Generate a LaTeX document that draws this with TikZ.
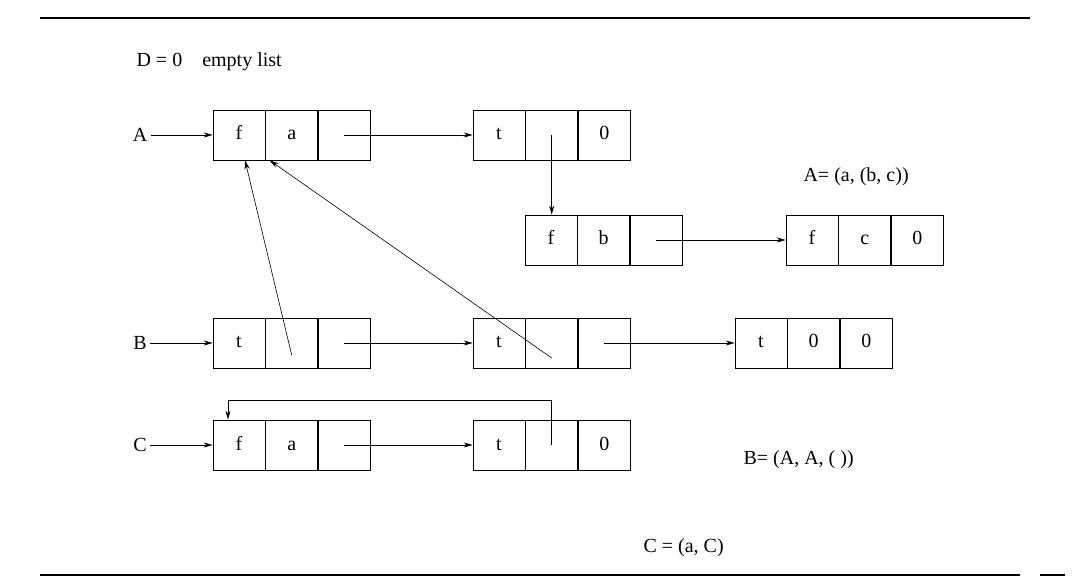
\documentclass[tikz,border=0pt]{standalone}
\usepackage{fontspec}
\setmainfont{Liberation Serif}
\usetikzlibrary{arrows.meta}
\begin{document}
\begin{tikzpicture}[x=1pt,y=-1pt,font=\fontsize{20}{23}\selectfont,
  cell/.style={draw,minimum width=52pt,minimum height=50pt,inner sep=0pt,line width=0.7pt,text height=10pt,text depth=0pt},
  arr/.style={-{Stealth[length=9pt,width=5pt]},line width=0.6pt}]
\useasboundingbox (0,0) rectangle (1085,588);
\draw[line width=1.2pt] (40,18) -- (1030,18);
\draw[line width=1.2pt] (40,575) -- (1020,575);
\draw[line width=1.2pt] (1040,575) -- (1065,575);
\newcommand\tri[5]{%
  \node[cell] (#1a) at (#2,#3) {#4};
  \node[cell,anchor=west] (#1b) at (#1a.east) {#5};
  \node[cell,anchor=west] (#1c) at (#1b.east) {};}
\node[anchor=west] (D) at (133,62) {D = 0\quad empty list};
\tri{a1}{239}{135}{f}{a}
\node[cell] (a2a) at (499,135) {t};
\node[cell,anchor=west] (a2b) at (a2a.east) {};
\node[cell,anchor=west] (a2c) at (a2b.east) {0};
\tri{b1}{551}{240}{f}{b}
\node[cell] (cca) at (812,240) {f};
\node[cell,anchor=west] (ccb) at (cca.east) {c};
\node[cell,anchor=west] (ccc) at (ccb.east) {0};
\tri{B1}{239}{343}{t}{}
\tri{B2}{499}{343}{t}{}
\node[cell] (B3a) at (761,343) {t};
\node[cell,anchor=west] (B3b) at (B3a.east) {0};
\node[cell,anchor=west] (B3c) at (B3b.east) {0};
\tri{C1}{239}{445}{f}{a}
\node[cell] (C2a) at (499,445) {t};
\node[cell,anchor=west] (C2b) at (C2a.east) {};
\node[cell,anchor=west] (C2c) at (C2b.east) {0};
\node (LA) at (140,135) {A};
\node (LB) at (140,343) {B};
\node (LC) at (140,445) {C};
\node[anchor=west] (tA) at (800,177) {A= (a, (b, c))};
\node[anchor=west] (tB) at (740,460) {B= (A, A, ( ))};
\node[anchor=west] (tC) at (640,548) {C = (a, C)};
\draw[arr] (LA.east) -- (a1a.west);
\draw[arr] (LB.east) -- (B1a.west);
\draw[arr] (LC.east) -- (C1a.west);
\draw[arr] (a1c.center) -- (a2a.west);
\draw[arr] (a2b.center) -- (b1a.north -| a2b.center);
\draw[arr] (b1c.center) -- (cca.west);
\draw[arr] ([yshift=-12pt]B1b.center) -- ([xshift=6pt]a1a.south);
\draw[arr] (B1c.center) -- (B2a.west);
\draw[arr] ([yshift=-15pt]B2b.center) -- ([xshift=-22pt]a1b.south);
\draw[arr] (B2c.center) -- (B3a.west);
\draw[arr] (C1c.center) -- (C2a.west);
\draw[arr] (C2b.center) -- (C2b.center |- 0,400) -- ([xshift=-11pt]C1a.north |- 0,400) -- ([xshift=-11pt]C1a.north);
\end{tikzpicture}
\end{document}
